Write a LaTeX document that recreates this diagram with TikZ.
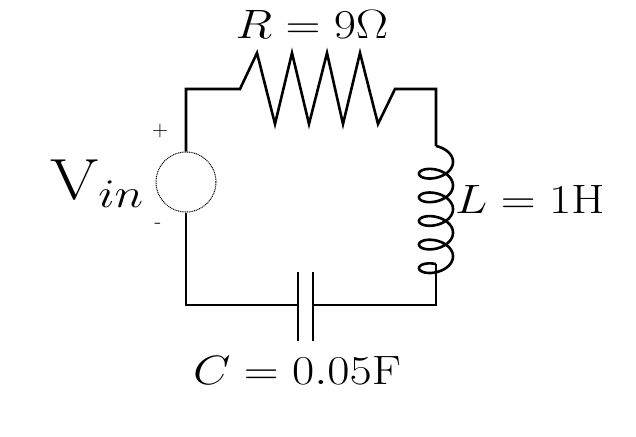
\RequirePackage{fix-cm}
\documentclass[tikz,border=0pt]{standalone}
\usepackage{graphicx}
\begin{document}
\begin{tikzpicture}[x=1pt,y=-1pt,wire/.style={line width=2.6pt,line join=miter},lbl/.style={font=\fontsize{41}{44}\selectfont,inner sep=0pt}]
\useasboundingbox (0,0) rectangle (636,436);
\coordinate (tl) at (186,89);
\coordinate (tr) at (436,89);
\coordinate (br) at (436,305);
\coordinate (bl) at (186,305);
\node[draw,dash pattern=on 1pt off 0.8pt,circle,minimum size=60pt,inner sep=0pt,line width=1pt] (src) at (186,182) {};
\draw[wire] (src.north) -- (tl) -- (240,89) -- (257,53) -- (275,124) -- (292,53) -- (309,124) -- (327,53) -- (343,124) -- (360,53) -- (378,124) -- (395,89) -- (tr) -- (436,146);
\draw[wire] plot[smooth,samples=300,domain=0:1800,variable=\t] ({436+17*sin(\t)},{146+0.0656*\t+10*(1-cos(\t))});
\draw[wire] (436,264) -- (br) -- (313,305);
\draw[wire] (298,305) -- (bl) -- (src.south);
\draw[line width=2.4pt] (298,272) -- (298,341) (313,272) -- (313,341);
\node[font=\fontsize{22}{24}\selectfont] (plus) at (160,131) {+};
\node[font=\fontsize{22}{24}\selectfont] (minus) at (158,226) {-};
\node[font=\fontsize{58}{62}\selectfont,inner sep=0pt,anchor=base] (vin) at (97,199) {\scalebox{1.2}[1]{V$_{in}$}};
\node[lbl,anchor=base] (rl) at (312,38) {\scalebox{1.18}[1]{$R=9\Omega$}};
\node[lbl,anchor=base west] (ll) at (455,213) {\scalebox{1.18}[1]{$L=1\mathrm{H}$}};
\node[lbl,anchor=base] (cl) at (297,384) {\scalebox{1.18}[1]{$C=0.05\mathrm{F}$}};
\end{tikzpicture}
\end{document}
